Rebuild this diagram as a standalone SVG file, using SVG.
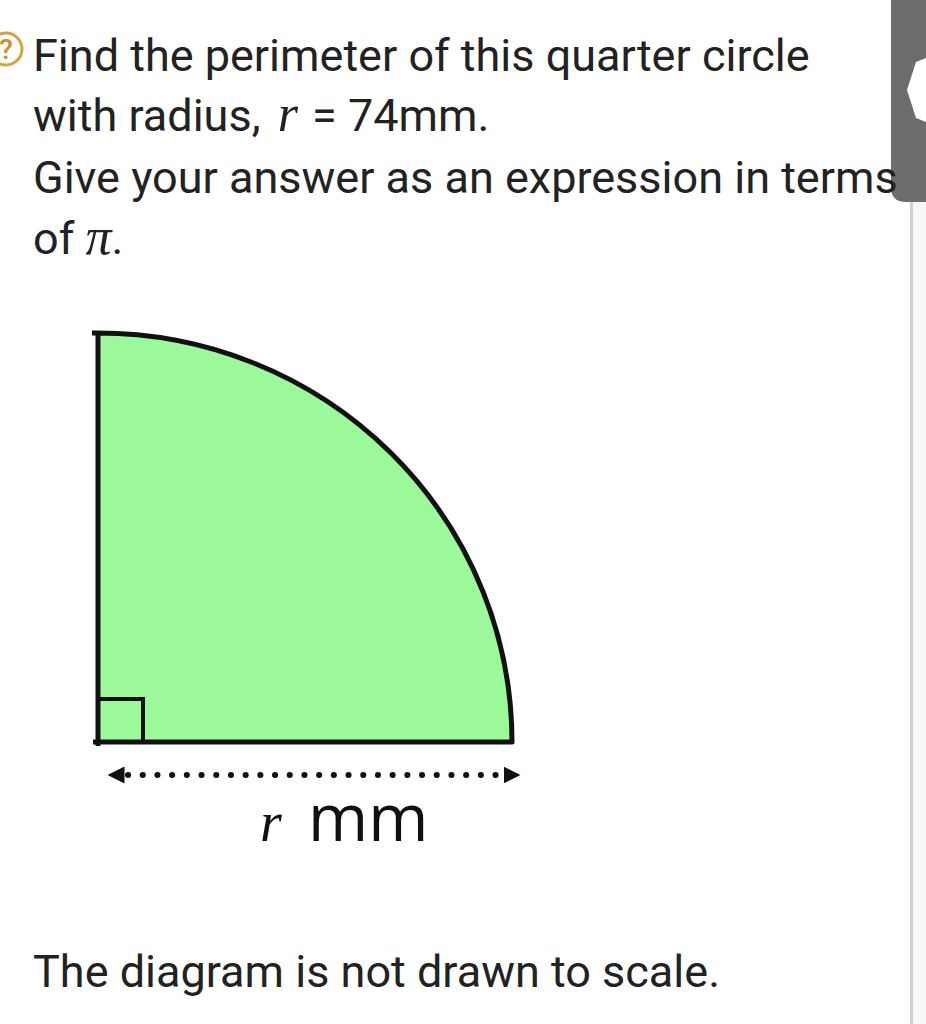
<svg xmlns="http://www.w3.org/2000/svg" width="926" height="1024" viewBox="0 0 926 1024">
  <style>
    .t { font-family: Roboto, "Liberation Sans", sans-serif; font-size: 45px; fill: #222; }
    .m { font-family: "Liberation Serif", serif; font-style: italic; font-size: 52px; }
    .edge { fill: none; stroke: #111; stroke-width: 5; stroke-linejoin: round; }
  </style>
  <defs>
    <marker id="ah" viewBox="0 0 10 10" refX="5" refY="5" markerWidth="17" markerHeight="17" markerUnits="userSpaceOnUse" orient="auto-start-reverse">
      <path d="M0,0 L10,5 L0,10 Z" fill="#111"/>
    </marker>
  </defs>
  <rect width="926" height="1024" fill="#fff"/>
  <!-- right side panel -->
  <rect x="912" y="190" width="14" height="834" fill="#f8f8f8"/>
  <rect x="910" y="190" width="3" height="834" fill="#d2d2d2"/>
  <path d="M891,0 H926 V202 H906 Q891,202 891,187 Z" fill="#6d6d6d"/>
  <path d="M926,58 L916,62 L907,90 L916,118 L926,122 Z" fill="#fff"/>
  <!-- question icon -->
  <g id="icon">
    <circle cx="6" cy="49" r="16" fill="none" stroke="#d9a23a" stroke-width="3"/>
    <text x="6" y="59" font-family="Roboto, sans-serif" font-size="28" font-weight="500" fill="#c98f2a" text-anchor="middle">?</text>
  </g>
  <g id="question">
    <text class="t" x="33" y="71">Find the perimeter of this quarter circle</text>
    <text class="t" x="33" y="131">with radius, <tspan class="m" dx="6">r</tspan> <tspan dx="3">= 74mm.</tspan></text>
    <text class="t" x="33" y="193">Give your answer as an expression in terms</text>
    <text class="t" x="33" y="254">of <tspan class="m" font-size="56">π</tspan>.</text>
  </g>
  <g id="quarter">
    <path d="M98,333 A414,409 0 0 1 512,742 L98,742 Z" fill="#9cf99a"/>
    <path class="edge" d="M92,333 L98,333 A414,409 0 0 1 512,742 L93,742 M98,333 L98,746"/>
    <rect x="98" y="699" width="45" height="43" fill="none" stroke="#111" stroke-width="4"/>
  </g>
  <g id="connectors">
    <line x1="116" y1="775" x2="512" y2="775" stroke="#111" stroke-width="6" stroke-dasharray="0.1 14.6" stroke-dashoffset="-12" stroke-linecap="round" marker-start="url(#ah)" marker-end="url(#ah)"/>
  </g>
  <g id="label">
    <text x="260" y="841" font-family="Liberation Serif, serif" font-style="italic" font-size="56" fill="#111">r</text>
    <text x="308" y="841" font-family="'Open Sans', 'Liberation Sans', sans-serif" font-size="65" fill="#111">mm</text>
  </g>
  <text class="t" x="33" y="987">The diagram is not drawn to scale.</text>
</svg>
